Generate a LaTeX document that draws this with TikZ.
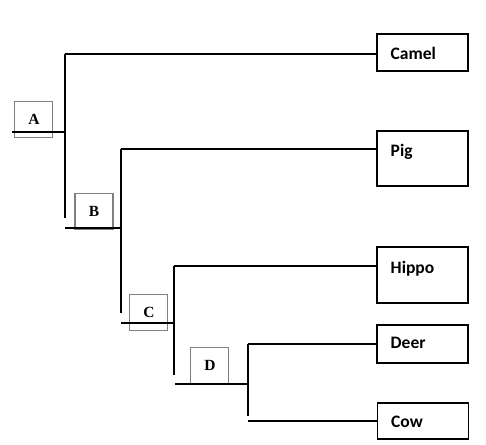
\documentclass[tikz,border=0pt]{standalone}
\usepackage{fontspec}
\setmainfont{Liberation Serif}
\newfontfamily\leaffont{Carlito}
\usetikzlibrary{positioning}

\begin{document}
\begin{tikzpicture}
[x=1pt, y=-1pt,
leaf/.style={rectangle, draw=black, line width=1.8pt, minimum width=91pt, anchor=north west, inner sep=0pt},
leafname/.style={anchor=base west, inner sep=0pt, font=\leaffont\bfseries\fontsize{17.5}{20}\selectfont},
clade/.style={rectangle, draw=gray, line width=1.1pt, minimum width=38pt, minimum height=36pt, inner sep=0pt, font=\bfseries\fontsize{15.5}{18}\selectfont},
branch/.style={line width=1.8pt}]

\useasboundingbox (0,0) rectangle (486,444);

% leaves
\node[leaf, minimum height=36.4pt] (camel) at (376,33.3) {};
\node[leaf, minimum height=55.6pt] (pig) at (376,129.7) {};
\node[leaf, minimum height=55.7pt] (hippo) at (376,246) {};
\node[leaf, minimum height=37.7pt] (deer) at (376,324) {};
\node[leaf, minimum height=36.6pt] (cow) at (376.5,401.7) {};

\node[leafname] (camelname) at ([shift={(14.5,26.4)}]camel.north west) {Camel};
\node[leafname] (pigname) at ([shift={(14.5,26.6)}]pig.north west) {Pig};
\node[leafname] (hipponame) at ([shift={(14.5,27.3)}]hippo.north west) {Hippo};
\node[leafname] (deername) at ([shift={(14.5,24.3)}]deer.north west) {Deer};
\node[leafname] (cowname) at ([shift={(14.5,25.6)}]cow.north west) {Cow};

% clade labels
\node[clade] (a) at (33.9,119.7) {A};
\node[clade] (b) at (94,211.4) {B};
\node[clade] (c) at (148.9,312.9) {C};
\node[clade] (d) at (209.9,365.9) {D};

% joints
\coordinate (aroot) at (12,131.7);
\coordinate (amid) at (65,131.7);
\coordinate (atop) at (65,54);
\coordinate (abot) at (65,218);
\coordinate (broot) at (65,227.7);
\coordinate (bmid) at (120.7,227.7);
\coordinate (btop) at (120.7,149);
\coordinate (bbot) at (120.7,313);
\coordinate (croot) at (121,323.3);
\coordinate (cmid) at (174,323.3);
\coordinate (ctop) at (174,266);
\coordinate (cbot) at (174,375);
\coordinate (droot) at (175,384);
\coordinate (dmid) at (248.3,384);
\coordinate (dtop) at (248.3,344);
\coordinate (dbot) at (248.3,416);
\coordinate (dcow) at (248.3,421);

\draw[branch] (aroot) -- (amid) (atop) -- (abot) (atop) -- (atop -| camel.west);
\draw[branch] (broot) -- (bmid) (btop) -- (bbot) (btop) -- (btop -| pig.west);
\draw[branch] (croot) -- (cmid) (ctop) -- (cbot) (ctop) -- (ctop -| hippo.west);
\draw[branch] (droot) -- (dmid) (dtop) -- (dbot) (dtop) -- (dtop -| deer.west) (dcow) -- (dcow -| cow.west);
\end{tikzpicture}
\end{document}
